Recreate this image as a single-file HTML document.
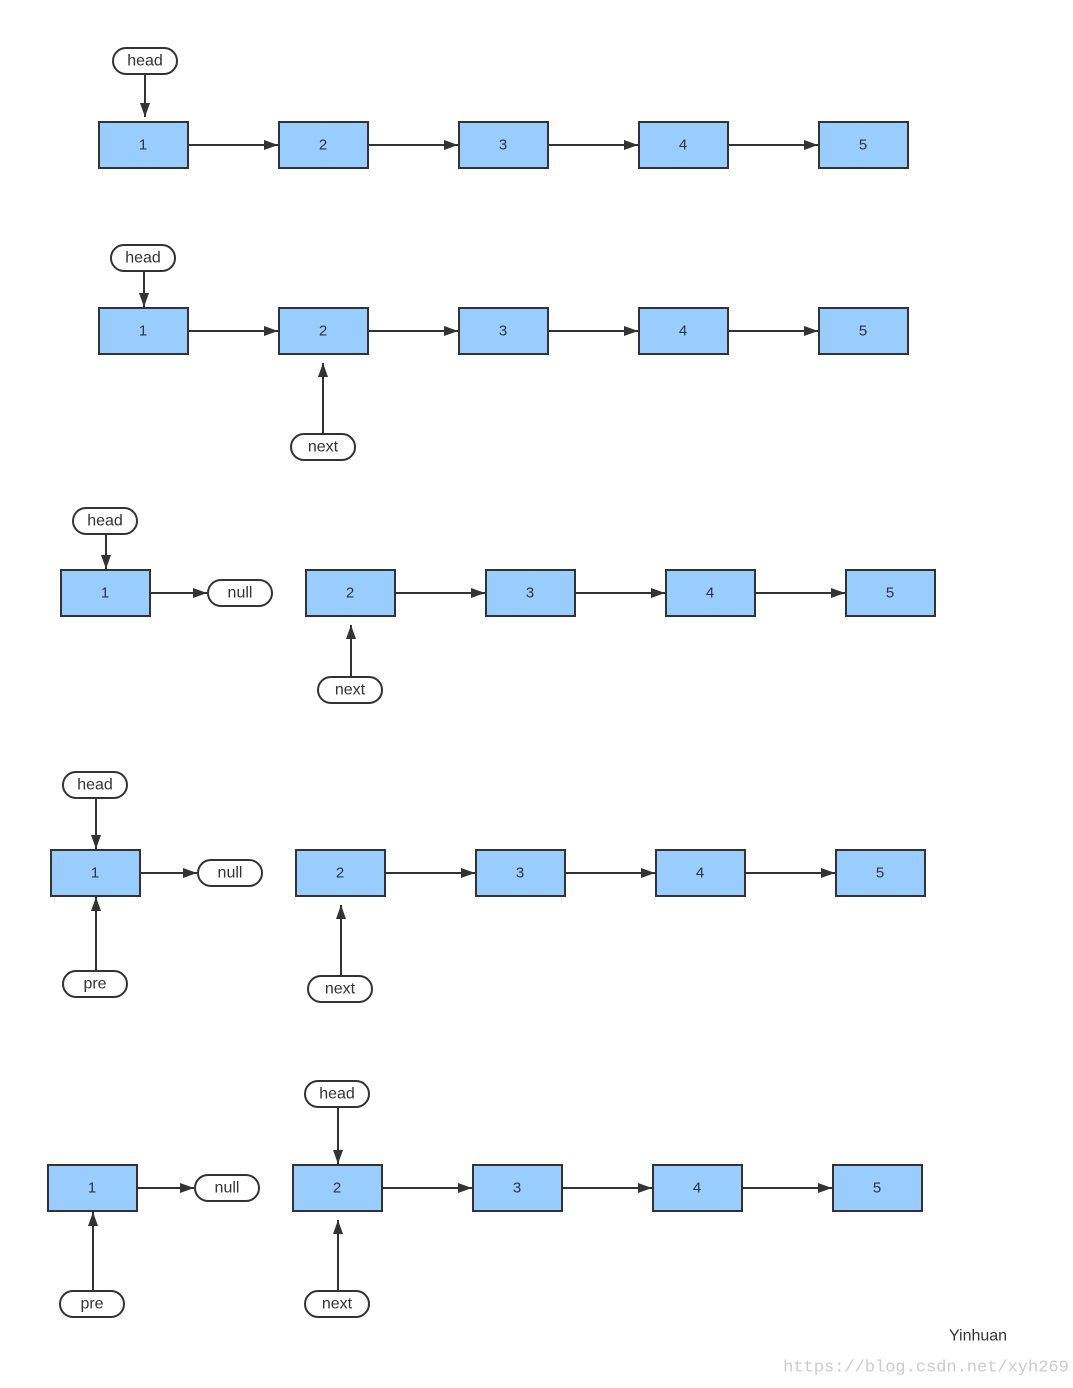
<!DOCTYPE html>
<html><head><meta charset="utf-8"><style>
html,body{margin:0;padding:0;background:#fff;}
svg{display:block}
text{font-family:"Liberation Sans","DejaVu Sans",sans-serif;fill:#333;text-anchor:middle;dominant-baseline:central}
.b{fill:#99ccff;stroke:#333;stroke-width:2}
.p{fill:#fff;stroke:#333;stroke-width:2}
.l{stroke:#333;stroke-width:2;fill:none;marker-end:url(#a)}
.bt{font-size:15px}
.pt{font-size:16px}
</style></head><body>
<svg width="1073" height="1388" viewBox="0 0 1073 1388" xmlns="http://www.w3.org/2000/svg">
<defs><marker id="a" viewBox="0 0 14 10" refX="14" refY="5" markerWidth="14" markerHeight="10" markerUnits="userSpaceOnUse" orient="auto"><path d="M0,0L14,5L0,10z" fill="#333"/></marker></defs>

<!-- Row 1 -->
<g>
<rect class="b" x="99" y="122" width="89" height="46"/><text class="bt" x="143" y="145">1</text>
<rect class="b" x="279" y="122" width="89" height="46"/><text class="bt" x="323" y="145">2</text>
<rect class="b" x="459" y="122" width="89" height="46"/><text class="bt" x="503" y="145">3</text>
<rect class="b" x="639" y="122" width="89" height="46"/><text class="bt" x="683" y="145">4</text>
<rect class="b" x="819" y="122" width="89" height="46"/><text class="bt" x="863" y="145">5</text>
<line class="l" x1="188" y1="145" x2="278" y2="145"/>
<line class="l" x1="368" y1="145" x2="458" y2="145"/>
<line class="l" x1="548" y1="145" x2="638" y2="145"/>
<line class="l" x1="728" y1="145" x2="818" y2="145"/>
<rect class="p" x="113" y="48" width="64" height="26" rx="13"/><text class="pt" x="145" y="61">head</text>
<line class="l" x1="145" y1="74" x2="145" y2="117"/>
</g>

<!-- Row 2 -->
<g>
<rect class="b" x="99" y="308" width="89" height="46"/><text class="bt" x="143" y="331">1</text>
<rect class="b" x="279" y="308" width="89" height="46"/><text class="bt" x="323" y="331">2</text>
<rect class="b" x="459" y="308" width="89" height="46"/><text class="bt" x="503" y="331">3</text>
<rect class="b" x="639" y="308" width="89" height="46"/><text class="bt" x="683" y="331">4</text>
<rect class="b" x="819" y="308" width="89" height="46"/><text class="bt" x="863" y="331">5</text>
<line class="l" x1="188" y1="331" x2="278" y2="331"/>
<line class="l" x1="368" y1="331" x2="458" y2="331"/>
<line class="l" x1="548" y1="331" x2="638" y2="331"/>
<line class="l" x1="728" y1="331" x2="818" y2="331"/>
<rect class="p" x="111" y="245" width="64" height="26" rx="13"/><text class="pt" x="143" y="258">head</text>
<line class="l" x1="144" y1="271" x2="144" y2="307"/>
<rect class="p" x="291" y="434" width="64" height="26" rx="13"/><text class="pt" x="323" y="447">next</text>
<line class="l" x1="323" y1="434" x2="323" y2="363"/>
</g>

<!-- Row 3 -->
<g>
<rect class="b" x="61" y="570" width="89" height="46"/><text class="bt" x="105" y="593">1</text>
<rect class="p" x="208" y="580" width="64" height="26" rx="13"/><text class="pt" x="240" y="593">null</text>
<line class="l" x1="150" y1="593" x2="207" y2="593"/>
<rect class="b" x="306" y="570" width="89" height="46"/><text class="bt" x="350" y="593">2</text>
<rect class="b" x="486" y="570" width="89" height="46"/><text class="bt" x="530" y="593">3</text>
<rect class="b" x="666" y="570" width="89" height="46"/><text class="bt" x="710" y="593">4</text>
<rect class="b" x="846" y="570" width="89" height="46"/><text class="bt" x="890" y="593">5</text>
<line class="l" x1="395" y1="593" x2="485" y2="593"/>
<line class="l" x1="575" y1="593" x2="665" y2="593"/>
<line class="l" x1="755" y1="593" x2="845" y2="593"/>
<rect class="p" x="73" y="508" width="64" height="26" rx="13"/><text class="pt" x="105" y="521">head</text>
<line class="l" x1="106" y1="534" x2="106" y2="569"/>
<rect class="p" x="318" y="677" width="64" height="26" rx="13"/><text class="pt" x="350" y="690">next</text>
<line class="l" x1="351" y1="677" x2="351" y2="625"/>
</g>

<!-- Row 4 -->
<g>
<rect class="b" x="51" y="850" width="89" height="46"/><text class="bt" x="95" y="873">1</text>
<rect class="p" x="198" y="860" width="64" height="26" rx="13"/><text class="pt" x="230" y="873">null</text>
<line class="l" x1="140" y1="873" x2="197" y2="873"/>
<rect class="b" x="296" y="850" width="89" height="46"/><text class="bt" x="340" y="873">2</text>
<rect class="b" x="476" y="850" width="89" height="46"/><text class="bt" x="520" y="873">3</text>
<rect class="b" x="656" y="850" width="89" height="46"/><text class="bt" x="700" y="873">4</text>
<rect class="b" x="836" y="850" width="89" height="46"/><text class="bt" x="880" y="873">5</text>
<line class="l" x1="385" y1="873" x2="475" y2="873"/>
<line class="l" x1="565" y1="873" x2="655" y2="873"/>
<line class="l" x1="745" y1="873" x2="835" y2="873"/>
<rect class="p" x="63" y="772" width="64" height="26" rx="13"/><text class="pt" x="95" y="785">head</text>
<line class="l" x1="96" y1="798" x2="96" y2="849"/>
<rect class="p" x="63" y="971" width="64" height="26" rx="13"/><text class="pt" x="95" y="984">pre</text>
<line class="l" x1="96" y1="971" x2="96" y2="897"/>
<rect class="p" x="308" y="976" width="64" height="26" rx="13"/><text class="pt" x="340" y="989">next</text>
<line class="l" x1="341" y1="976" x2="341" y2="905"/>
</g>

<!-- Row 5 -->
<g>
<rect class="b" x="48" y="1165" width="89" height="46"/><text class="bt" x="92" y="1188">1</text>
<rect class="p" x="195" y="1175" width="64" height="26" rx="13"/><text class="pt" x="227" y="1188">null</text>
<line class="l" x1="137" y1="1188" x2="194" y2="1188"/>
<rect class="b" x="293" y="1165" width="89" height="46"/><text class="bt" x="337" y="1188">2</text>
<rect class="b" x="473" y="1165" width="89" height="46"/><text class="bt" x="517" y="1188">3</text>
<rect class="b" x="653" y="1165" width="89" height="46"/><text class="bt" x="697" y="1188">4</text>
<rect class="b" x="833" y="1165" width="89" height="46"/><text class="bt" x="877" y="1188">5</text>
<line class="l" x1="382" y1="1188" x2="472" y2="1188"/>
<line class="l" x1="562" y1="1188" x2="652" y2="1188"/>
<line class="l" x1="742" y1="1188" x2="832" y2="1188"/>
<rect class="p" x="305" y="1081" width="64" height="26" rx="13"/><text class="pt" x="337" y="1094">head</text>
<line class="l" x1="338" y1="1107" x2="338" y2="1164"/>
<rect class="p" x="60" y="1291" width="64" height="26" rx="13"/><text class="pt" x="92" y="1304">pre</text>
<line class="l" x1="93" y1="1291" x2="93" y2="1212"/>
<rect class="p" x="305" y="1291" width="64" height="26" rx="13"/><text class="pt" x="337" y="1304">next</text>
<line class="l" x1="338" y1="1291" x2="338" y2="1220"/>
</g>

<text x="978" y="1336" style="font-size:16px">Yinhuan</text>
<text x="926" y="1368" style="font-size:17px;fill:#ccc;font-family:'Liberation Mono',monospace">https://blog.csdn.net/xyh269</text>
</svg>
</body></html>
